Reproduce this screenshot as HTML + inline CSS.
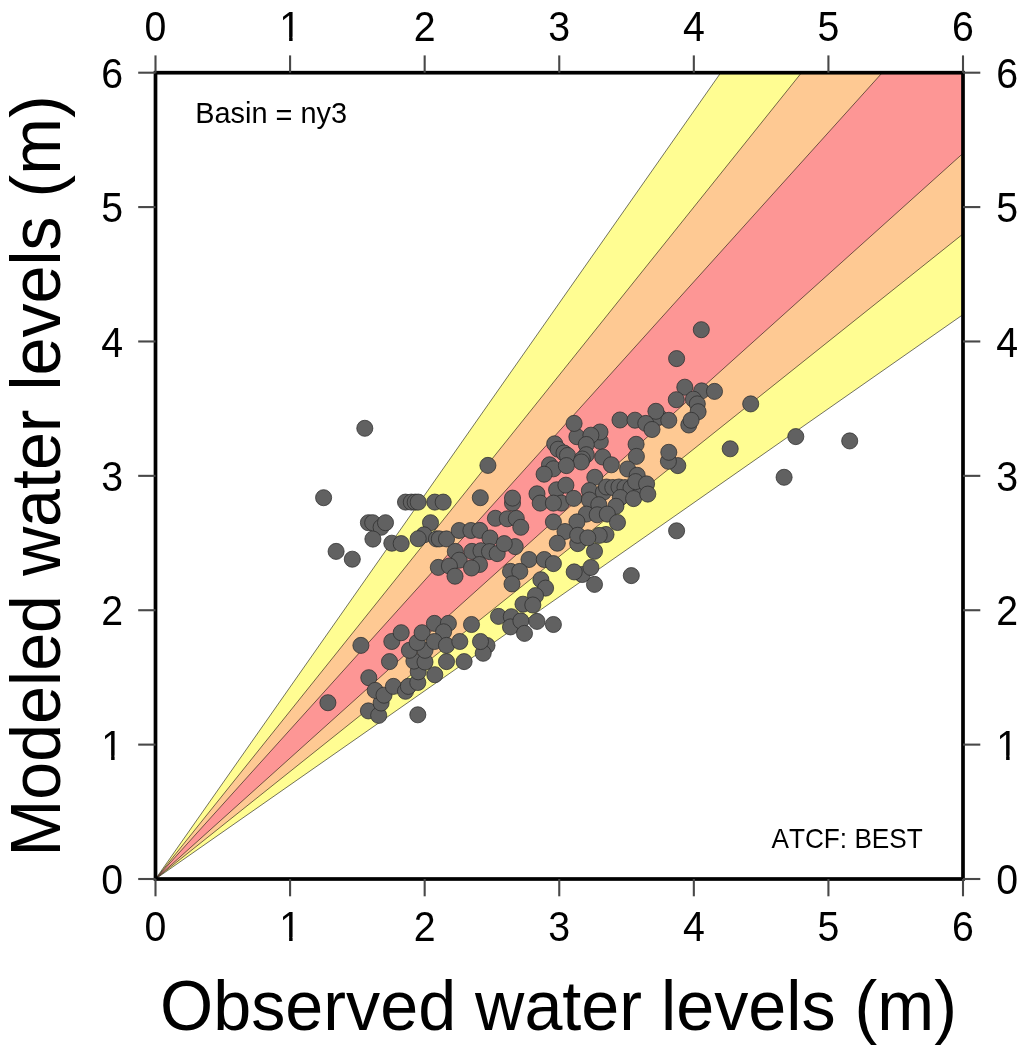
<!DOCTYPE html>
<html><head><meta charset="utf-8"><title>Modeled vs Observed water levels</title>
<style>
html,body{margin:0;padding:0;background:#fff;}
svg{display:block;}
text{font-family:"Liberation Sans",sans-serif;fill:#000;font-kerning:none;}
.ann{font-size:39.3px;}
.lab{font-size:67.5px;}
.txt{font-size:27.6px;}
</style></head><body>
<svg width="1024" height="1056" viewBox="0 0 1024 1056">
<rect width="1024" height="1056" fill="#fff"/>
<defs><clipPath id="c"><rect x="155.50" y="72.70" width="807.50" height="806.30"/></clipPath>
<clipPath id="k1m"><path d="M-14,-40H14V-3.95H2.52V1H-0.96V-3.95H-14Z"/></clipPath>
<clipPath id="k1e"><path d="M-24.93,-40H3.07V-3.95H-8.4V1H-11.88V-3.95H-24.93Z"/></clipPath>
<clipPath id="k1s"><path d="M-3.07,-40H24.93V-3.95H13.4V1H9.92V-3.95H-3.07Z"/></clipPath></defs>

<g clip-path="url(#c)" stroke="#000" stroke-opacity="0.55" stroke-width="1" stroke-linejoin="miter">
<polygon points="155.50,879.00 720.75,72.70 963.00,72.70 963.00,314.59" fill="#fffd92"/>
<polygon points="155.50,879.00 801.50,72.70 963.00,72.70 963.00,233.96" fill="#fec993"/>
<polygon points="155.50,879.00 882.25,72.70 963.00,72.70 963.00,153.33" fill="#fd9695"/>
</g>
<g fill="#616161" stroke="#2e2e2e" stroke-width="0.75">
<circle cx="364.8" cy="428.3" r="8.05"/>
<circle cx="323.6" cy="497.7" r="8.05"/>
<circle cx="487.9" cy="465.4" r="8.05"/>
<circle cx="480.3" cy="497.7" r="8.05"/>
<circle cx="405.5" cy="502.1" r="8.05"/>
<circle cx="411.3" cy="502.1" r="8.05"/>
<circle cx="415.2" cy="502.1" r="8.05"/>
<circle cx="418.2" cy="502.1" r="8.05"/>
<circle cx="434.8" cy="502.1" r="8.05"/>
<circle cx="443.2" cy="502.1" r="8.05"/>
<circle cx="368.4" cy="522.7" r="8.05"/>
<circle cx="372.7" cy="522.7" r="8.05"/>
<circle cx="381.1" cy="527.3" r="8.05"/>
<circle cx="385.5" cy="522.7" r="8.05"/>
<circle cx="372.9" cy="539.1" r="8.05"/>
<circle cx="336.1" cy="551.4" r="8.05"/>
<circle cx="352.3" cy="559.2" r="8.05"/>
<circle cx="391.8" cy="543.2" r="8.05"/>
<circle cx="401.2" cy="543.6" r="8.05"/>
<circle cx="430.5" cy="522.7" r="8.05"/>
<circle cx="424.0" cy="534.8" r="8.05"/>
<circle cx="418.2" cy="538.7" r="8.05"/>
<circle cx="436.5" cy="538.9" r="8.05"/>
<circle cx="439.3" cy="538.9" r="8.05"/>
<circle cx="446.5" cy="538.9" r="8.05"/>
<circle cx="459.2" cy="530.5" r="8.05"/>
<circle cx="470.9" cy="530.5" r="8.05"/>
<circle cx="479.8" cy="530.4" r="8.05"/>
<circle cx="495.4" cy="518.3" r="8.05"/>
<circle cx="490.0" cy="538.0" r="8.05"/>
<circle cx="455.3" cy="551.4" r="8.05"/>
<circle cx="459.2" cy="560.2" r="8.05"/>
<circle cx="471.9" cy="551.4" r="8.05"/>
<circle cx="481.0" cy="550.7" r="8.05"/>
<circle cx="489.5" cy="551.6" r="8.05"/>
<circle cx="497.2" cy="553.6" r="8.05"/>
<circle cx="438.3" cy="567.4" r="8.05"/>
<circle cx="449.4" cy="566.0" r="8.05"/>
<circle cx="455.0" cy="576.2" r="8.05"/>
<circle cx="479.5" cy="564.5" r="8.05"/>
<circle cx="471.5" cy="568.0" r="8.05"/>
<circle cx="327.9" cy="702.7" r="8.05"/>
<circle cx="360.9" cy="645.4" r="8.05"/>
<circle cx="368.8" cy="677.7" r="8.05"/>
<circle cx="389.5" cy="661.6" r="8.05"/>
<circle cx="391.8" cy="641.5" r="8.05"/>
<circle cx="401.2" cy="632.7" r="8.05"/>
<circle cx="417.8" cy="714.8" r="8.05"/>
<circle cx="368.4" cy="710.9" r="8.05"/>
<circle cx="378.7" cy="715.4" r="8.05"/>
<circle cx="381.1" cy="703.0" r="8.05"/>
<circle cx="375.2" cy="690.4" r="8.05"/>
<circle cx="384.0" cy="695.2" r="8.05"/>
<circle cx="393.4" cy="686.4" r="8.05"/>
<circle cx="405.5" cy="691.3" r="8.05"/>
<circle cx="408.4" cy="686.4" r="8.05"/>
<circle cx="417.8" cy="682.5" r="8.05"/>
<circle cx="418.2" cy="671.8" r="8.05"/>
<circle cx="434.8" cy="674.7" r="8.05"/>
<circle cx="413.9" cy="661.1" r="8.05"/>
<circle cx="425.0" cy="662.0" r="8.05"/>
<circle cx="409.4" cy="650.3" r="8.05"/>
<circle cx="425.0" cy="650.3" r="8.05"/>
<circle cx="417.2" cy="642.5" r="8.05"/>
<circle cx="422.1" cy="632.7" r="8.05"/>
<circle cx="434.4" cy="623.4" r="8.05"/>
<circle cx="448.4" cy="623.4" r="8.05"/>
<circle cx="443.6" cy="631.8" r="8.05"/>
<circle cx="434.4" cy="641.5" r="8.05"/>
<circle cx="446.5" cy="645.4" r="8.05"/>
<circle cx="459.8" cy="641.5" r="8.05"/>
<circle cx="471.5" cy="624.5" r="8.05"/>
<circle cx="446.5" cy="661.6" r="8.05"/>
<circle cx="464.1" cy="661.6" r="8.05"/>
<circle cx="487.0" cy="645.5" r="8.05"/>
<circle cx="483.2" cy="653.3" r="8.05"/>
<circle cx="480.5" cy="641.5" r="8.05"/>
<circle cx="498.5" cy="616.4" r="8.05"/>
<circle cx="512.5" cy="503.1" r="8.05"/>
<circle cx="512.5" cy="498.1" r="8.05"/>
<circle cx="507.3" cy="518.8" r="8.05"/>
<circle cx="516.3" cy="518.4" r="8.05"/>
<circle cx="520.8" cy="527.3" r="8.05"/>
<circle cx="515.2" cy="546.6" r="8.05"/>
<circle cx="504.2" cy="543.6" r="8.05"/>
<circle cx="576.9" cy="436.7" r="8.05"/>
<circle cx="574.1" cy="423.4" r="8.05"/>
<circle cx="600.3" cy="441.4" r="8.05"/>
<circle cx="600.0" cy="432.0" r="8.05"/>
<circle cx="590.9" cy="435.2" r="8.05"/>
<circle cx="586.3" cy="444.5" r="8.05"/>
<circle cx="620.0" cy="420.0" r="8.05"/>
<circle cx="635.0" cy="420.2" r="8.05"/>
<circle cx="554.7" cy="443.8" r="8.05"/>
<circle cx="558.1" cy="449.2" r="8.05"/>
<circle cx="564.0" cy="453.0" r="8.05"/>
<circle cx="567.5" cy="455.5" r="8.05"/>
<circle cx="586.3" cy="454.7" r="8.05"/>
<circle cx="582.3" cy="459.0" r="8.05"/>
<circle cx="581.3" cy="462.0" r="8.05"/>
<circle cx="602.7" cy="457.0" r="8.05"/>
<circle cx="611.3" cy="464.8" r="8.05"/>
<circle cx="636.1" cy="444.3" r="8.05"/>
<circle cx="636.4" cy="456.4" r="8.05"/>
<circle cx="627.6" cy="469.0" r="8.05"/>
<circle cx="549.5" cy="464.8" r="8.05"/>
<circle cx="553.4" cy="468.8" r="8.05"/>
<circle cx="566.4" cy="465.6" r="8.05"/>
<circle cx="544.1" cy="474.2" r="8.05"/>
<circle cx="594.8" cy="477.3" r="8.05"/>
<circle cx="556.6" cy="489.8" r="8.05"/>
<circle cx="565.9" cy="485.2" r="8.05"/>
<circle cx="537.0" cy="493.8" r="8.05"/>
<circle cx="540.2" cy="503.1" r="8.05"/>
<circle cx="561.3" cy="503.1" r="8.05"/>
<circle cx="553.4" cy="503.1" r="8.05"/>
<circle cx="573.8" cy="498.4" r="8.05"/>
<circle cx="589.4" cy="490.6" r="8.05"/>
<circle cx="603.4" cy="492.2" r="8.05"/>
<circle cx="606.5" cy="487.0" r="8.05"/>
<circle cx="612.8" cy="487.5" r="8.05"/>
<circle cx="619.0" cy="487.0" r="8.05"/>
<circle cx="625.0" cy="487.6" r="8.05"/>
<circle cx="631.0" cy="488.0" r="8.05"/>
<circle cx="641.0" cy="487.5" r="8.05"/>
<circle cx="620.3" cy="497.5" r="8.05"/>
<circle cx="633.6" cy="498.6" r="8.05"/>
<circle cx="589.4" cy="500.0" r="8.05"/>
<circle cx="598.8" cy="504.7" r="8.05"/>
<circle cx="586.3" cy="514.1" r="8.05"/>
<circle cx="615.9" cy="506.3" r="8.05"/>
<circle cx="597.2" cy="514.8" r="8.05"/>
<circle cx="607.3" cy="514.1" r="8.05"/>
<circle cx="617.5" cy="522.5" r="8.05"/>
<circle cx="553.4" cy="521.9" r="8.05"/>
<circle cx="576.9" cy="521.9" r="8.05"/>
<circle cx="565.0" cy="531.5" r="8.05"/>
<circle cx="577.7" cy="543.6" r="8.05"/>
<circle cx="577.7" cy="535.3" r="8.05"/>
<circle cx="557.3" cy="543.2" r="8.05"/>
<circle cx="606.0" cy="534.5" r="8.05"/>
<circle cx="599.2" cy="535.4" r="8.05"/>
<circle cx="594.5" cy="551.3" r="8.05"/>
<circle cx="529.0" cy="559.5" r="8.05"/>
<circle cx="544.3" cy="559.5" r="8.05"/>
<circle cx="553.4" cy="563.6" r="8.05"/>
<circle cx="701.3" cy="329.7" r="8.05"/>
<circle cx="676.6" cy="358.6" r="8.05"/>
<circle cx="684.8" cy="387.2" r="8.05"/>
<circle cx="701.6" cy="390.9" r="8.05"/>
<circle cx="714.5" cy="391.4" r="8.05"/>
<circle cx="676.3" cy="399.7" r="8.05"/>
<circle cx="693.4" cy="399.2" r="8.05"/>
<circle cx="697.3" cy="403.9" r="8.05"/>
<circle cx="698.1" cy="411.7" r="8.05"/>
<circle cx="688.8" cy="425.0" r="8.05"/>
<circle cx="691.1" cy="420.3" r="8.05"/>
<circle cx="750.7" cy="403.9" r="8.05"/>
<circle cx="730.2" cy="448.8" r="8.05"/>
<circle cx="659.1" cy="417.2" r="8.05"/>
<circle cx="655.9" cy="411.3" r="8.05"/>
<circle cx="668.8" cy="420.3" r="8.05"/>
<circle cx="645.8" cy="423.4" r="8.05"/>
<circle cx="652.0" cy="429.5" r="8.05"/>
<circle cx="677.8" cy="465.6" r="8.05"/>
<circle cx="668.4" cy="461.3" r="8.05"/>
<circle cx="668.8" cy="452.3" r="8.05"/>
<circle cx="676.6" cy="530.8" r="8.05"/>
<circle cx="631.3" cy="575.6" r="8.05"/>
<circle cx="637.2" cy="475.3" r="8.05"/>
<circle cx="635.6" cy="481.6" r="8.05"/>
<circle cx="646.6" cy="483.9" r="8.05"/>
<circle cx="647.8" cy="494.1" r="8.05"/>
<circle cx="795.8" cy="436.6" r="8.05"/>
<circle cx="849.7" cy="440.9" r="8.05"/>
<circle cx="784.1" cy="477.3" r="8.05"/>
<circle cx="594.5" cy="584.4" r="8.05"/>
<circle cx="582.3" cy="574.5" r="8.05"/>
<circle cx="574.2" cy="571.9" r="8.05"/>
<circle cx="590.9" cy="567.5" r="8.05"/>
<circle cx="587.8" cy="537.8" r="8.05"/>
<circle cx="510.5" cy="571.4" r="8.05"/>
<circle cx="519.8" cy="571.4" r="8.05"/>
<circle cx="512.0" cy="583.9" r="8.05"/>
<circle cx="540.9" cy="579.7" r="8.05"/>
<circle cx="545.6" cy="588.1" r="8.05"/>
<circle cx="535.5" cy="595.6" r="8.05"/>
<circle cx="523.0" cy="604.2" r="8.05"/>
<circle cx="532.8" cy="605.0" r="8.05"/>
<circle cx="511.3" cy="616.7" r="8.05"/>
<circle cx="510.5" cy="626.9" r="8.05"/>
<circle cx="520.9" cy="620.9" r="8.05"/>
<circle cx="537.0" cy="621.4" r="8.05"/>
<circle cx="553.4" cy="624.5" r="8.05"/>
<circle cx="524.5" cy="633.4" r="8.05"/>
</g>
<rect x="155.50" y="72.70" width="807.50" height="806.30" fill="none" stroke="#000" stroke-width="3.7"/>
<g stroke="#484848" stroke-width="2.1">
<line x1="155.50" y1="879.00" x2="155.50" y2="896.30"/>
<line x1="155.50" y1="72.70" x2="155.50" y2="55.40"/>
<line x1="155.50" y1="879.00" x2="138.20" y2="879.00"/>
<line x1="963.00" y1="879.00" x2="980.30" y2="879.00"/>
<line x1="290.08" y1="879.00" x2="290.08" y2="896.30"/>
<line x1="290.08" y1="72.70" x2="290.08" y2="55.40"/>
<line x1="155.50" y1="744.62" x2="138.20" y2="744.62"/>
<line x1="963.00" y1="744.62" x2="980.30" y2="744.62"/>
<line x1="424.67" y1="879.00" x2="424.67" y2="896.30"/>
<line x1="424.67" y1="72.70" x2="424.67" y2="55.40"/>
<line x1="155.50" y1="610.23" x2="138.20" y2="610.23"/>
<line x1="963.00" y1="610.23" x2="980.30" y2="610.23"/>
<line x1="559.25" y1="879.00" x2="559.25" y2="896.30"/>
<line x1="559.25" y1="72.70" x2="559.25" y2="55.40"/>
<line x1="155.50" y1="475.85" x2="138.20" y2="475.85"/>
<line x1="963.00" y1="475.85" x2="980.30" y2="475.85"/>
<line x1="693.83" y1="879.00" x2="693.83" y2="896.30"/>
<line x1="693.83" y1="72.70" x2="693.83" y2="55.40"/>
<line x1="155.50" y1="341.47" x2="138.20" y2="341.47"/>
<line x1="963.00" y1="341.47" x2="980.30" y2="341.47"/>
<line x1="828.42" y1="879.00" x2="828.42" y2="896.30"/>
<line x1="828.42" y1="72.70" x2="828.42" y2="55.40"/>
<line x1="155.50" y1="207.08" x2="138.20" y2="207.08"/>
<line x1="963.00" y1="207.08" x2="980.30" y2="207.08"/>
<line x1="963.00" y1="879.00" x2="963.00" y2="896.30"/>
<line x1="963.00" y1="72.70" x2="963.00" y2="55.40"/>
<line x1="155.50" y1="72.70" x2="138.20" y2="72.70"/>
<line x1="963.00" y1="72.70" x2="980.30" y2="72.70"/>
</g>
<text class="ann" transform="translate(155.50,941.20) scale(1,1.0650)" text-anchor="middle">0</text>
<text class="ann" transform="translate(155.50,41.00) scale(1,1.0650)" text-anchor="middle">0</text>
<text class="ann" transform="translate(123.00,894.20) scale(1,1.0650)" text-anchor="end">0</text>
<text class="ann" transform="translate(996.20,894.20) scale(1,1.0650)" text-anchor="start">0</text>
<text class="ann" transform="translate(290.08,941.20) scale(1,1.0650)" text-anchor="middle" clip-path="url(#k1m)">1</text>
<text class="ann" transform="translate(290.08,41.00) scale(1,1.0650)" text-anchor="middle" clip-path="url(#k1m)">1</text>
<text class="ann" transform="translate(123.00,759.82) scale(1,1.0650)" text-anchor="end" clip-path="url(#k1e)">1</text>
<text class="ann" transform="translate(996.20,759.82) scale(1,1.0650)" text-anchor="start" clip-path="url(#k1s)">1</text>
<text class="ann" transform="translate(424.67,941.20) scale(1,1.0650)" text-anchor="middle">2</text>
<text class="ann" transform="translate(424.67,41.00) scale(1,1.0650)" text-anchor="middle">2</text>
<text class="ann" transform="translate(123.00,625.43) scale(1,1.0650)" text-anchor="end">2</text>
<text class="ann" transform="translate(996.20,625.43) scale(1,1.0650)" text-anchor="start">2</text>
<text class="ann" transform="translate(559.25,941.20) scale(1,1.0650)" text-anchor="middle">3</text>
<text class="ann" transform="translate(559.25,41.00) scale(1,1.0650)" text-anchor="middle">3</text>
<text class="ann" transform="translate(123.00,491.05) scale(1,1.0650)" text-anchor="end">3</text>
<text class="ann" transform="translate(996.20,491.05) scale(1,1.0650)" text-anchor="start">3</text>
<text class="ann" transform="translate(693.83,941.20) scale(1,1.0650)" text-anchor="middle">4</text>
<text class="ann" transform="translate(693.83,41.00) scale(1,1.0650)" text-anchor="middle">4</text>
<text class="ann" transform="translate(123.00,356.67) scale(1,1.0650)" text-anchor="end">4</text>
<text class="ann" transform="translate(996.20,356.67) scale(1,1.0650)" text-anchor="start">4</text>
<text class="ann" transform="translate(828.42,941.20) scale(1,1.0650)" text-anchor="middle">5</text>
<text class="ann" transform="translate(828.42,41.00) scale(1,1.0650)" text-anchor="middle">5</text>
<text class="ann" transform="translate(123.00,222.28) scale(1,1.0650)" text-anchor="end">5</text>
<text class="ann" transform="translate(996.20,222.28) scale(1,1.0650)" text-anchor="start">5</text>
<text class="ann" transform="translate(963.00,941.20) scale(1,1.0650)" text-anchor="middle">6</text>
<text class="ann" transform="translate(963.00,41.00) scale(1,1.0650)" text-anchor="middle">6</text>
<text class="ann" transform="translate(123.00,87.90) scale(1,1.0650)" text-anchor="end">6</text>
<text class="ann" transform="translate(996.20,87.90) scale(1,1.0650)" text-anchor="start">6</text>
<text class="lab" transform="translate(558.50,1029.70) scale(1,1.0400)" text-anchor="middle" style="font-size:68.3px">Observed water levels (m)</text>
<text class="lab" transform="translate(60.20,475.85) rotate(-90) scale(1,1.0400)" text-anchor="middle" style="font-size:68.15px">Modeled water levels (m)</text>
<text class="txt" transform="translate(195.20,123.20) scale(1,1.0400)" text-anchor="start" style="font-size:28.9px">Basin <tspan dy="2.2">=</tspan><tspan dy="-2.2"> ny3</tspan></text>
<text class="txt" transform="translate(922.80,848.20) scale(1,1.0400)" text-anchor="end" style="font-size:26.2px">ATCF: BEST</text>
</svg></body></html>
